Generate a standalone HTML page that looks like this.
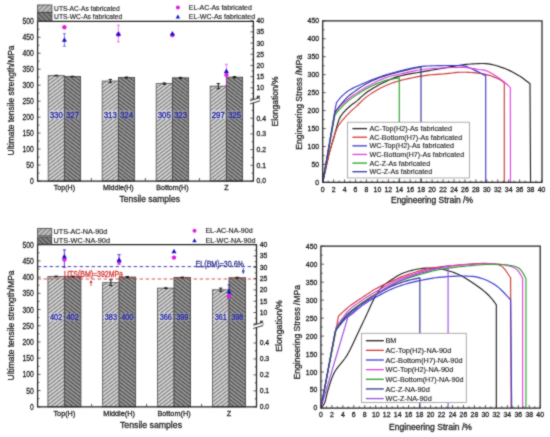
<!DOCTYPE html>
<html><head><meta charset="utf-8"><style>
html,body{margin:0;padding:0;background:#fff;}
svg{display:block;}
#w{width:550px;height:437px;overflow:hidden;}
text{font-family:"Liberation Sans",sans-serif;}
</style></head><body>
<div id="w"><svg width="550" height="437" viewBox="0 0 550 437">
<defs>
<filter id="soft" filterUnits="userSpaceOnUse" x="0" y="0" width="550" height="437" color-interpolation-filters="sRGB"><feConvolveMatrix order="3" kernelMatrix="1 2 1 2 12 2 1 2 1" divisor="24" edgeMode="duplicate"/></filter>
<pattern id="hAC" patternUnits="userSpaceOnUse" width="3.0" height="10" patternTransform="rotate(52)"><rect width="3.0" height="10" fill="#dadada"/><rect width="1.2" height="10" fill="#7a7a7a"/></pattern>
<pattern id="hWC" patternUnits="userSpaceOnUse" width="3.0" height="10" patternTransform="rotate(-52)"><rect width="3.0" height="10" fill="#9c9c9c"/><rect width="1.2" height="10" fill="#4a4a4a"/></pattern>
<pattern id="hACl" patternUnits="userSpaceOnUse" width="3.4" height="10" patternTransform="rotate(45)"><rect width="3.4" height="10" fill="#c2c2c2"/><rect width="1.4" height="10" fill="#8a8a8a"/></pattern>
<pattern id="hWCl" patternUnits="userSpaceOnUse" width="3.4" height="10" patternTransform="rotate(-45)"><rect width="3.4" height="10" fill="#858585"/><rect width="1.4" height="10" fill="#545454"/></pattern>
<clipPath id="cTR"><rect x="322.7" y="20.8" width="219.4" height="161.6"/></clipPath>
<clipPath id="cBR"><rect x="320.9" y="246.2" width="219.3" height="161.8"/></clipPath>
</defs>
<g filter="url(#soft)">
<rect width="550" height="437" fill="#fff"/>
<rect x="48.20" y="75.60" width="16.20" height="105.40" fill="url(#hAC)" stroke="#606060" stroke-width="0.9"/>
<rect x="64.40" y="76.56" width="16.20" height="104.44" fill="url(#hWC)" stroke="#4a4a4a" stroke-width="0.9"/>
<rect x="102.20" y="81.03" width="16.20" height="99.97" fill="url(#hAC)" stroke="#606060" stroke-width="0.9"/>
<rect x="118.40" y="77.51" width="16.20" height="103.49" fill="url(#hWC)" stroke="#4a4a4a" stroke-width="0.9"/>
<rect x="156.20" y="83.58" width="16.20" height="97.42" fill="url(#hAC)" stroke="#606060" stroke-width="0.9"/>
<rect x="172.40" y="77.83" width="16.20" height="103.17" fill="url(#hWC)" stroke="#4a4a4a" stroke-width="0.9"/>
<rect x="210.20" y="86.14" width="16.20" height="94.86" fill="url(#hAC)" stroke="#606060" stroke-width="0.9"/>
<rect x="226.40" y="77.20" width="16.20" height="103.80" fill="url(#hWC)" stroke="#4a4a4a" stroke-width="0.9"/>
<line x1="56.30" y1="75.28" x2="56.30" y2="75.92" stroke="#111" stroke-width="0.95" />
<line x1="54.60" y1="75.28" x2="58.00" y2="75.28" stroke="#111" stroke-width="0.95" />
<line x1="54.60" y1="75.92" x2="58.00" y2="75.92" stroke="#111" stroke-width="0.95" />
<line x1="72.50" y1="76.24" x2="72.50" y2="76.88" stroke="#111" stroke-width="0.95" />
<line x1="70.80" y1="76.24" x2="74.20" y2="76.24" stroke="#111" stroke-width="0.95" />
<line x1="70.80" y1="76.88" x2="74.20" y2="76.88" stroke="#111" stroke-width="0.95" />
<line x1="110.30" y1="79.43" x2="110.30" y2="82.62" stroke="#111" stroke-width="0.95" />
<line x1="108.60" y1="79.43" x2="112.00" y2="79.43" stroke="#111" stroke-width="0.95" />
<line x1="108.60" y1="82.62" x2="112.00" y2="82.62" stroke="#111" stroke-width="0.95" />
<line x1="126.50" y1="77.04" x2="126.50" y2="77.99" stroke="#111" stroke-width="0.95" />
<line x1="124.80" y1="77.04" x2="128.20" y2="77.04" stroke="#111" stroke-width="0.95" />
<line x1="124.80" y1="77.99" x2="128.20" y2="77.99" stroke="#111" stroke-width="0.95" />
<line x1="164.30" y1="82.94" x2="164.30" y2="84.22" stroke="#111" stroke-width="0.95" />
<line x1="162.60" y1="82.94" x2="166.00" y2="82.94" stroke="#111" stroke-width="0.95" />
<line x1="162.60" y1="84.22" x2="166.00" y2="84.22" stroke="#111" stroke-width="0.95" />
<line x1="180.50" y1="77.35" x2="180.50" y2="78.31" stroke="#111" stroke-width="0.95" />
<line x1="178.80" y1="77.35" x2="182.20" y2="77.35" stroke="#111" stroke-width="0.95" />
<line x1="178.80" y1="78.31" x2="182.20" y2="78.31" stroke="#111" stroke-width="0.95" />
<line x1="218.30" y1="83.58" x2="218.30" y2="88.69" stroke="#111" stroke-width="0.95" />
<line x1="216.60" y1="83.58" x2="220.00" y2="83.58" stroke="#111" stroke-width="0.95" />
<line x1="216.60" y1="88.69" x2="220.00" y2="88.69" stroke="#111" stroke-width="0.95" />
<line x1="234.50" y1="76.56" x2="234.50" y2="77.83" stroke="#111" stroke-width="0.95" />
<line x1="232.80" y1="76.56" x2="236.20" y2="76.56" stroke="#111" stroke-width="0.95" />
<line x1="232.80" y1="77.83" x2="236.20" y2="77.83" stroke="#111" stroke-width="0.95" />
<rect x="49.10" y="110.42" width="14.40" height="8.46" fill="#d6d6da"/>
<text x="56.30" y="117.79" font-size="8.9" text-anchor="middle" fill="#2626a4" stroke="#2626a4" stroke-width="0.35" textLength="13.20" lengthAdjust="spacingAndGlyphs" >330</text>
<rect x="65.30" y="110.42" width="14.40" height="8.46" fill="#969698"/>
<text x="72.50" y="117.79" font-size="8.9" text-anchor="middle" fill="#2626a4" stroke="#2626a4" stroke-width="0.35" textLength="13.20" lengthAdjust="spacingAndGlyphs" >327</text>
<rect x="103.10" y="110.42" width="14.40" height="8.46" fill="#d6d6da"/>
<text x="110.30" y="117.79" font-size="8.9" text-anchor="middle" fill="#2626a4" stroke="#2626a4" stroke-width="0.35" textLength="13.20" lengthAdjust="spacingAndGlyphs" >313</text>
<rect x="119.30" y="110.42" width="14.40" height="8.46" fill="#969698"/>
<text x="126.50" y="117.79" font-size="8.9" text-anchor="middle" fill="#2626a4" stroke="#2626a4" stroke-width="0.35" textLength="13.20" lengthAdjust="spacingAndGlyphs" >324</text>
<rect x="157.10" y="110.42" width="14.40" height="8.46" fill="#d6d6da"/>
<text x="164.30" y="117.79" font-size="8.9" text-anchor="middle" fill="#2626a4" stroke="#2626a4" stroke-width="0.35" textLength="13.20" lengthAdjust="spacingAndGlyphs" >305</text>
<rect x="173.30" y="110.42" width="14.40" height="8.46" fill="#969698"/>
<text x="180.50" y="117.79" font-size="8.9" text-anchor="middle" fill="#2626a4" stroke="#2626a4" stroke-width="0.35" textLength="13.20" lengthAdjust="spacingAndGlyphs" >323</text>
<rect x="211.10" y="110.42" width="14.40" height="8.46" fill="#d6d6da"/>
<text x="218.30" y="117.79" font-size="8.9" text-anchor="middle" fill="#2626a4" stroke="#2626a4" stroke-width="0.35" textLength="13.20" lengthAdjust="spacingAndGlyphs" >297</text>
<rect x="227.30" y="110.42" width="14.40" height="8.46" fill="#969698"/>
<text x="234.50" y="117.79" font-size="8.9" text-anchor="middle" fill="#2626a4" stroke="#2626a4" stroke-width="0.35" textLength="13.20" lengthAdjust="spacingAndGlyphs" >325</text>
<line x1="64.40" y1="33.67" x2="64.40" y2="46.20" stroke="#1414c8" stroke-width="0.55" />
<line x1="62.80" y1="33.67" x2="66.00" y2="33.67" stroke="#1414c8" stroke-width="0.55" />
<line x1="62.80" y1="46.20" x2="66.00" y2="46.20" stroke="#1414c8" stroke-width="0.55" />
<line x1="118.40" y1="25.17" x2="118.40" y2="41.95" stroke="#e020e0" stroke-width="0.55" />
<line x1="116.80" y1="25.17" x2="120.00" y2="25.17" stroke="#e020e0" stroke-width="0.55" />
<line x1="116.80" y1="41.95" x2="120.00" y2="41.95" stroke="#e020e0" stroke-width="0.55" />
<line x1="226.40" y1="64.32" x2="226.40" y2="85.57" stroke="#e020e0" stroke-width="0.55" />
<line x1="224.80" y1="64.32" x2="228.00" y2="64.32" stroke="#e020e0" stroke-width="0.55" />
<line x1="224.80" y1="85.57" x2="228.00" y2="85.57" stroke="#e020e0" stroke-width="0.55" />
<circle cx="64.40" cy="27.19" r="2.2" fill="#e020e0"/>
<path d="M61.90,41.74 L66.90,41.74 L64.40,37.24 Z" fill="#1414c8"/>
<circle cx="118.40" cy="34.57" r="2.2" fill="#e020e0"/>
<path d="M115.90,35.70 L120.90,35.70 L118.40,31.20 Z" fill="#1414c8"/>
<circle cx="172.40" cy="35.02" r="2.2" fill="#e020e0"/>
<path d="M169.90,35.48 L174.90,35.48 L172.40,30.98 Z" fill="#1414c8"/>
<circle cx="226.40" cy="74.84" r="2.2" fill="#e020e0"/>
<path d="M223.90,73.06 L228.90,73.06 L226.40,68.56 Z" fill="#1414c8"/>
<path d="M37.6,21.3 L253.4,21.3 L253.4,181.0 L37.6,181.0 Z" fill="none" stroke="#222" stroke-width="1.25"/>
<line x1="37.60" y1="181.00" x2="40.60" y2="181.00" stroke="#333" stroke-width="0.8" />
<text x="33.80" y="184.08" font-size="8.6" text-anchor="end" fill="#222" stroke="#222" stroke-width="0.28" textLength="3.78" lengthAdjust="spacingAndGlyphs" >0</text>
<line x1="37.60" y1="173.01" x2="39.40" y2="173.01" stroke="#333" stroke-width="0.8" />
<line x1="37.60" y1="165.03" x2="40.60" y2="165.03" stroke="#333" stroke-width="0.8" />
<text x="33.80" y="168.11" font-size="8.6" text-anchor="end" fill="#222" stroke="#222" stroke-width="0.28" textLength="7.56" lengthAdjust="spacingAndGlyphs" >50</text>
<line x1="37.60" y1="157.05" x2="39.40" y2="157.05" stroke="#333" stroke-width="0.8" />
<line x1="37.60" y1="149.06" x2="40.60" y2="149.06" stroke="#333" stroke-width="0.8" />
<text x="33.80" y="152.14" font-size="8.6" text-anchor="end" fill="#222" stroke="#222" stroke-width="0.28" textLength="11.33" lengthAdjust="spacingAndGlyphs" >100</text>
<line x1="37.60" y1="141.07" x2="39.40" y2="141.07" stroke="#333" stroke-width="0.8" />
<line x1="37.60" y1="133.09" x2="40.60" y2="133.09" stroke="#333" stroke-width="0.8" />
<text x="33.80" y="136.17" font-size="8.6" text-anchor="end" fill="#222" stroke="#222" stroke-width="0.28" textLength="11.33" lengthAdjust="spacingAndGlyphs" >150</text>
<line x1="37.60" y1="125.11" x2="39.40" y2="125.11" stroke="#333" stroke-width="0.8" />
<line x1="37.60" y1="117.12" x2="40.60" y2="117.12" stroke="#333" stroke-width="0.8" />
<text x="33.80" y="120.20" font-size="8.6" text-anchor="end" fill="#222" stroke="#222" stroke-width="0.28" textLength="11.33" lengthAdjust="spacingAndGlyphs" >200</text>
<line x1="37.60" y1="109.14" x2="39.40" y2="109.14" stroke="#333" stroke-width="0.8" />
<line x1="37.60" y1="101.15" x2="40.60" y2="101.15" stroke="#333" stroke-width="0.8" />
<text x="33.80" y="104.23" font-size="8.6" text-anchor="end" fill="#222" stroke="#222" stroke-width="0.28" textLength="11.33" lengthAdjust="spacingAndGlyphs" >250</text>
<line x1="37.60" y1="93.17" x2="39.40" y2="93.17" stroke="#333" stroke-width="0.8" />
<line x1="37.60" y1="85.18" x2="40.60" y2="85.18" stroke="#333" stroke-width="0.8" />
<text x="33.80" y="88.26" font-size="8.6" text-anchor="end" fill="#222" stroke="#222" stroke-width="0.28" textLength="11.33" lengthAdjust="spacingAndGlyphs" >300</text>
<line x1="37.60" y1="77.20" x2="39.40" y2="77.20" stroke="#333" stroke-width="0.8" />
<line x1="37.60" y1="69.21" x2="40.60" y2="69.21" stroke="#333" stroke-width="0.8" />
<text x="33.80" y="72.29" font-size="8.6" text-anchor="end" fill="#222" stroke="#222" stroke-width="0.28" textLength="11.33" lengthAdjust="spacingAndGlyphs" >350</text>
<line x1="37.60" y1="61.23" x2="39.40" y2="61.23" stroke="#333" stroke-width="0.8" />
<line x1="37.60" y1="53.24" x2="40.60" y2="53.24" stroke="#333" stroke-width="0.8" />
<text x="33.80" y="56.32" font-size="8.6" text-anchor="end" fill="#222" stroke="#222" stroke-width="0.28" textLength="11.33" lengthAdjust="spacingAndGlyphs" >400</text>
<line x1="37.60" y1="45.26" x2="39.40" y2="45.26" stroke="#333" stroke-width="0.8" />
<line x1="37.60" y1="37.27" x2="40.60" y2="37.27" stroke="#333" stroke-width="0.8" />
<text x="33.80" y="40.35" font-size="8.6" text-anchor="end" fill="#222" stroke="#222" stroke-width="0.28" textLength="11.33" lengthAdjust="spacingAndGlyphs" >450</text>
<line x1="37.60" y1="29.29" x2="39.40" y2="29.29" stroke="#333" stroke-width="0.8" />
<line x1="37.60" y1="21.30" x2="40.60" y2="21.30" stroke="#333" stroke-width="0.8" />
<text x="33.80" y="24.38" font-size="8.6" text-anchor="end" fill="#222" stroke="#222" stroke-width="0.28" textLength="11.33" lengthAdjust="spacingAndGlyphs" >500</text>
<line x1="91.40" y1="181.00" x2="91.40" y2="178.00" stroke="#333" stroke-width="0.8" />
<line x1="145.40" y1="181.00" x2="145.40" y2="178.00" stroke="#333" stroke-width="0.8" />
<line x1="199.40" y1="181.00" x2="199.40" y2="178.00" stroke="#333" stroke-width="0.8" />
<text x="64.40" y="190.06" font-size="8" text-anchor="middle" fill="#222" stroke="#222" stroke-width="0.28" textLength="21.24" lengthAdjust="spacingAndGlyphs" >Top(H)</text>
<text x="118.40" y="190.06" font-size="8" text-anchor="middle" fill="#222" stroke="#222" stroke-width="0.28" textLength="30.68" lengthAdjust="spacingAndGlyphs" >Middle(H)</text>
<text x="172.40" y="190.06" font-size="8" text-anchor="middle" fill="#222" stroke="#222" stroke-width="0.28" textLength="32.26" lengthAdjust="spacingAndGlyphs" >Bottom(H)</text>
<text x="226.40" y="190.06" font-size="8" text-anchor="middle" fill="#222" stroke="#222" stroke-width="0.28" textLength="4.32" lengthAdjust="spacingAndGlyphs" >Z</text>
<line x1="253.40" y1="99.00" x2="250.40" y2="99.00" stroke="#333" stroke-width="0.8" />
<text x="256.60" y="101.43" font-size="6.8" text-anchor="start" fill="#222" stroke="#222" stroke-width="0.28" >5</text>
<line x1="253.40" y1="87.81" x2="250.40" y2="87.81" stroke="#333" stroke-width="0.8" />
<text x="256.60" y="90.24" font-size="6.8" text-anchor="start" fill="#222" stroke="#222" stroke-width="0.28" >10</text>
<line x1="253.40" y1="76.62" x2="250.40" y2="76.62" stroke="#333" stroke-width="0.8" />
<text x="256.60" y="79.06" font-size="6.8" text-anchor="start" fill="#222" stroke="#222" stroke-width="0.28" >15</text>
<line x1="253.40" y1="65.44" x2="250.40" y2="65.44" stroke="#333" stroke-width="0.8" />
<text x="256.60" y="67.87" font-size="6.8" text-anchor="start" fill="#222" stroke="#222" stroke-width="0.28" >20</text>
<line x1="253.40" y1="54.25" x2="250.40" y2="54.25" stroke="#333" stroke-width="0.8" />
<text x="256.60" y="56.69" font-size="6.8" text-anchor="start" fill="#222" stroke="#222" stroke-width="0.28" >25</text>
<line x1="253.40" y1="43.07" x2="250.40" y2="43.07" stroke="#333" stroke-width="0.8" />
<text x="256.60" y="45.50" font-size="6.8" text-anchor="start" fill="#222" stroke="#222" stroke-width="0.28" >30</text>
<line x1="253.40" y1="31.88" x2="250.40" y2="31.88" stroke="#333" stroke-width="0.8" />
<text x="256.60" y="34.32" font-size="6.8" text-anchor="start" fill="#222" stroke="#222" stroke-width="0.28" >35</text>
<line x1="253.40" y1="20.70" x2="250.40" y2="20.70" stroke="#333" stroke-width="0.8" />
<text x="256.60" y="23.13" font-size="6.8" text-anchor="start" fill="#222" stroke="#222" stroke-width="0.28" >40</text>
<line x1="253.40" y1="93.40" x2="251.60" y2="93.40" stroke="#333" stroke-width="0.8" />
<line x1="253.40" y1="82.22" x2="251.60" y2="82.22" stroke="#333" stroke-width="0.8" />
<line x1="253.40" y1="71.03" x2="251.60" y2="71.03" stroke="#333" stroke-width="0.8" />
<line x1="253.40" y1="59.85" x2="251.60" y2="59.85" stroke="#333" stroke-width="0.8" />
<line x1="253.40" y1="48.66" x2="251.60" y2="48.66" stroke="#333" stroke-width="0.8" />
<line x1="253.40" y1="37.48" x2="251.60" y2="37.48" stroke="#333" stroke-width="0.8" />
<line x1="253.40" y1="26.29" x2="251.60" y2="26.29" stroke="#333" stroke-width="0.8" />
<line x1="253.40" y1="181.00" x2="250.40" y2="181.00" stroke="#333" stroke-width="0.8" />
<text x="256.60" y="183.43" font-size="6.8" text-anchor="start" fill="#222" stroke="#222" stroke-width="0.28" >0.0</text>
<line x1="253.40" y1="165.30" x2="250.40" y2="165.30" stroke="#333" stroke-width="0.8" />
<text x="256.60" y="167.73" font-size="6.8" text-anchor="start" fill="#222" stroke="#222" stroke-width="0.28" >0.1</text>
<line x1="253.40" y1="149.60" x2="250.40" y2="149.60" stroke="#333" stroke-width="0.8" />
<text x="256.60" y="152.03" font-size="6.8" text-anchor="start" fill="#222" stroke="#222" stroke-width="0.28" >0.2</text>
<line x1="253.40" y1="133.90" x2="250.40" y2="133.90" stroke="#333" stroke-width="0.8" />
<text x="256.60" y="136.33" font-size="6.8" text-anchor="start" fill="#222" stroke="#222" stroke-width="0.28" >0.3</text>
<line x1="253.40" y1="118.20" x2="250.40" y2="118.20" stroke="#333" stroke-width="0.8" />
<text x="256.60" y="120.63" font-size="6.8" text-anchor="start" fill="#222" stroke="#222" stroke-width="0.28" >0.4</text>
<line x1="253.40" y1="173.15" x2="251.60" y2="173.15" stroke="#333" stroke-width="0.8" />
<line x1="253.40" y1="157.45" x2="251.60" y2="157.45" stroke="#333" stroke-width="0.8" />
<line x1="253.40" y1="141.75" x2="251.60" y2="141.75" stroke="#333" stroke-width="0.8" />
<line x1="253.40" y1="126.05" x2="251.60" y2="126.05" stroke="#333" stroke-width="0.8" />
<line x1="253.40" y1="110.35" x2="251.60" y2="110.35" stroke="#333" stroke-width="0.8" />
<path d="M250.10,100.60 L259.40,97.80 L259.90,100.90 L250.10,103.90 Z" fill="#fff"/>
<line x1="250.10" y1="100.60" x2="259.40" y2="97.80" stroke="#222" stroke-width="0.9" />
<line x1="250.10" y1="103.90" x2="259.90" y2="100.90" stroke="#222" stroke-width="0.9" />
<text x="0" y="0" font-size="8.4" text-anchor="middle" fill="#222" stroke="#222" stroke-width="0.28" textLength="109.90" lengthAdjust="spacingAndGlyphs" transform="translate(14.20,100.45) rotate(-90)">Ultimate tensile strength/MPa</text>
<text x="0" y="0" font-size="8.6" text-anchor="middle" fill="#222" stroke="#222" stroke-width="0.28" textLength="49.90" lengthAdjust="spacingAndGlyphs" transform="translate(278.00,101.45) rotate(-90)">Elongation/%</text>
<text x="149.70" y="202.19" font-size="9.2" text-anchor="middle" fill="#222" stroke="#222" stroke-width="0.28" textLength="60.40" lengthAdjust="spacingAndGlyphs" >Tensile samples</text>
<rect x="37.6" y="5" width="14.299999999999997" height="7.4" fill="url(#hACl)" stroke="#505050" stroke-width="0.9"/>
<rect x="37.6" y="12.4" width="14.299999999999997" height="8.6" fill="url(#hWCl)" stroke="#404040" stroke-width="0.9"/>
<text x="54.10" y="10.91" font-size="7.0" text-anchor="start" fill="#222" stroke="#222" stroke-width="0.15" textLength="65.60" lengthAdjust="spacingAndGlyphs" >UTS-AC-As fabricated</text>
<text x="54.10" y="19.11" font-size="7.0" text-anchor="start" fill="#222" stroke="#222" stroke-width="0.15" textLength="68.20" lengthAdjust="spacingAndGlyphs" >UTS-WC-As fabricated</text>
<circle cx="177.90" cy="7.40" r="2.0" fill="#e020e0"/>
<path d="M175.70,18.58 L180.10,18.58 L177.90,14.62 Z" fill="#1414c8"/>
<text x="188.80" y="9.91" font-size="7.0" text-anchor="start" fill="#222" stroke="#222" stroke-width="0.15" textLength="63.00" lengthAdjust="spacingAndGlyphs" >EL-AC-As fabricated</text>
<text x="188.80" y="19.11" font-size="7.0" text-anchor="start" fill="#222" stroke="#222" stroke-width="0.15" textLength="66.30" lengthAdjust="spacingAndGlyphs" >EL-WC-As fabricated</text>
<rect x="47.90" y="276.47" width="16.50" height="130.33" fill="url(#hAC)" stroke="#606060" stroke-width="0.9"/>
<rect x="64.40" y="276.47" width="16.50" height="130.33" fill="url(#hWC)" stroke="#4a4a4a" stroke-width="0.9"/>
<rect x="102.60" y="282.63" width="16.50" height="124.17" fill="url(#hAC)" stroke="#606060" stroke-width="0.9"/>
<rect x="119.10" y="277.12" width="16.50" height="129.68" fill="url(#hWC)" stroke="#4a4a4a" stroke-width="0.9"/>
<rect x="157.50" y="288.14" width="16.50" height="118.66" fill="url(#hAC)" stroke="#606060" stroke-width="0.9"/>
<rect x="174.00" y="277.44" width="16.50" height="129.36" fill="url(#hWC)" stroke="#4a4a4a" stroke-width="0.9"/>
<rect x="212.50" y="289.76" width="16.50" height="117.04" fill="url(#hAC)" stroke="#606060" stroke-width="0.9"/>
<rect x="229.00" y="277.77" width="16.50" height="129.03" fill="url(#hWC)" stroke="#4a4a4a" stroke-width="0.9"/>
<line x1="56.15" y1="276.15" x2="56.15" y2="276.80" stroke="#111" stroke-width="0.95" />
<line x1="54.45" y1="276.15" x2="57.85" y2="276.15" stroke="#111" stroke-width="0.95" />
<line x1="54.45" y1="276.80" x2="57.85" y2="276.80" stroke="#111" stroke-width="0.95" />
<line x1="72.65" y1="276.15" x2="72.65" y2="276.80" stroke="#111" stroke-width="0.95" />
<line x1="70.95" y1="276.15" x2="74.35" y2="276.15" stroke="#111" stroke-width="0.95" />
<line x1="70.95" y1="276.80" x2="74.35" y2="276.80" stroke="#111" stroke-width="0.95" />
<line x1="110.85" y1="279.71" x2="110.85" y2="285.55" stroke="#111" stroke-width="0.95" />
<line x1="109.15" y1="279.71" x2="112.55" y2="279.71" stroke="#111" stroke-width="0.95" />
<line x1="109.15" y1="285.55" x2="112.55" y2="285.55" stroke="#111" stroke-width="0.95" />
<line x1="127.35" y1="276.47" x2="127.35" y2="277.77" stroke="#111" stroke-width="0.95" />
<line x1="125.65" y1="276.47" x2="129.05" y2="276.47" stroke="#111" stroke-width="0.95" />
<line x1="125.65" y1="277.77" x2="129.05" y2="277.77" stroke="#111" stroke-width="0.95" />
<line x1="165.75" y1="287.82" x2="165.75" y2="288.47" stroke="#111" stroke-width="0.95" />
<line x1="164.05" y1="287.82" x2="167.45" y2="287.82" stroke="#111" stroke-width="0.95" />
<line x1="164.05" y1="288.47" x2="167.45" y2="288.47" stroke="#111" stroke-width="0.95" />
<line x1="182.25" y1="277.12" x2="182.25" y2="277.77" stroke="#111" stroke-width="0.95" />
<line x1="180.55" y1="277.12" x2="183.95" y2="277.12" stroke="#111" stroke-width="0.95" />
<line x1="180.55" y1="277.77" x2="183.95" y2="277.77" stroke="#111" stroke-width="0.95" />
<line x1="220.75" y1="288.14" x2="220.75" y2="291.38" stroke="#111" stroke-width="0.95" />
<line x1="219.05" y1="288.14" x2="222.45" y2="288.14" stroke="#111" stroke-width="0.95" />
<line x1="219.05" y1="291.38" x2="222.45" y2="291.38" stroke="#111" stroke-width="0.95" />
<line x1="237.25" y1="277.28" x2="237.25" y2="278.25" stroke="#111" stroke-width="0.95" />
<line x1="235.55" y1="277.28" x2="238.95" y2="277.28" stroke="#111" stroke-width="0.95" />
<line x1="235.55" y1="278.25" x2="238.95" y2="278.25" stroke="#111" stroke-width="0.95" />
<rect x="49.45" y="313.25" width="13.40" height="7.79" fill="#d6d6da"/>
<text x="56.15" y="320.04" font-size="8.2" text-anchor="middle" fill="#2626a4" stroke="#2626a4" stroke-width="0.35" textLength="12.20" lengthAdjust="spacingAndGlyphs" >402</text>
<rect x="65.95" y="313.25" width="13.40" height="7.79" fill="#969698"/>
<text x="72.65" y="320.04" font-size="8.2" text-anchor="middle" fill="#2626a4" stroke="#2626a4" stroke-width="0.35" textLength="12.20" lengthAdjust="spacingAndGlyphs" >402</text>
<rect x="104.15" y="313.25" width="13.40" height="7.79" fill="#d6d6da"/>
<text x="110.85" y="320.04" font-size="8.2" text-anchor="middle" fill="#2626a4" stroke="#2626a4" stroke-width="0.35" textLength="12.20" lengthAdjust="spacingAndGlyphs" >383</text>
<rect x="120.65" y="313.25" width="13.40" height="7.79" fill="#969698"/>
<text x="127.35" y="320.04" font-size="8.2" text-anchor="middle" fill="#2626a4" stroke="#2626a4" stroke-width="0.35" textLength="12.20" lengthAdjust="spacingAndGlyphs" >400</text>
<rect x="159.05" y="313.25" width="13.40" height="7.79" fill="#d6d6da"/>
<text x="165.75" y="320.04" font-size="8.2" text-anchor="middle" fill="#2626a4" stroke="#2626a4" stroke-width="0.35" textLength="12.20" lengthAdjust="spacingAndGlyphs" >366</text>
<rect x="175.55" y="313.25" width="13.40" height="7.79" fill="#969698"/>
<text x="182.25" y="320.04" font-size="8.2" text-anchor="middle" fill="#2626a4" stroke="#2626a4" stroke-width="0.35" textLength="12.20" lengthAdjust="spacingAndGlyphs" >399</text>
<rect x="214.05" y="313.25" width="13.40" height="7.79" fill="#d6d6da"/>
<text x="220.75" y="320.04" font-size="8.2" text-anchor="middle" fill="#2626a4" stroke="#2626a4" stroke-width="0.35" textLength="12.20" lengthAdjust="spacingAndGlyphs" >361</text>
<rect x="230.55" y="313.25" width="13.40" height="7.79" fill="#969698"/>
<text x="237.25" y="320.04" font-size="8.2" text-anchor="middle" fill="#2626a4" stroke="#2626a4" stroke-width="0.35" textLength="12.20" lengthAdjust="spacingAndGlyphs" >398</text>
<line x1="37.60" y1="266.60" x2="256.50" y2="266.60" stroke="#2a2ab0" stroke-width="0.9" stroke-dasharray="3.5,2.5"/>
<line x1="37.60" y1="279.00" x2="256.50" y2="279.00" stroke="#d04040" stroke-width="0.9" stroke-dasharray="3.5,2.5"/>
<text x="64.00" y="277.34" font-size="8.2" text-anchor="start" fill="#d03030" stroke="#d03030" stroke-width="0.28" textLength="59.00" lengthAdjust="spacingAndGlyphs" >UTS(BM)=392MPa</text>
<text x="195.60" y="266.94" font-size="8.2" text-anchor="start" fill="#2e2e8c" stroke="#2e2e8c" stroke-width="0.28" textLength="48.30" lengthAdjust="spacingAndGlyphs" >EL(BM)=30.6%</text>
<line x1="91.00" y1="286.00" x2="91.00" y2="281.00" stroke="#d03030" stroke-width="0.8" />
<path d="M89.5,283 L91,280 L92.5,283 Z" fill="#d03030"/>
<line x1="243.30" y1="268.00" x2="243.30" y2="273.70" stroke="#2a2ab0" stroke-width="0.8" />
<path d="M241.8,270.5 L243.3,273.7 L244.8,270.5 Z" fill="#2a2ab0"/>
<line x1="64.40" y1="249.90" x2="64.40" y2="267.30" stroke="#e020e0" stroke-width="0.55" />
<line x1="62.80" y1="249.90" x2="66.00" y2="249.90" stroke="#e020e0" stroke-width="0.55" />
<line x1="62.80" y1="267.30" x2="66.00" y2="267.30" stroke="#e020e0" stroke-width="0.55" />
<line x1="64.40" y1="249.90" x2="64.40" y2="267.30" stroke="#1414c8" stroke-width="0.55" />
<line x1="62.80" y1="249.90" x2="66.00" y2="249.90" stroke="#1414c8" stroke-width="0.55" />
<line x1="62.80" y1="267.30" x2="66.00" y2="267.30" stroke="#1414c8" stroke-width="0.55" />
<line x1="119.10" y1="254.64" x2="119.10" y2="264.14" stroke="#e020e0" stroke-width="0.55" />
<line x1="117.50" y1="254.64" x2="120.70" y2="254.64" stroke="#e020e0" stroke-width="0.55" />
<line x1="117.50" y1="264.14" x2="120.70" y2="264.14" stroke="#e020e0" stroke-width="0.55" />
<line x1="119.10" y1="254.64" x2="119.10" y2="264.14" stroke="#1414c8" stroke-width="0.55" />
<line x1="117.50" y1="254.64" x2="120.70" y2="254.64" stroke="#1414c8" stroke-width="0.55" />
<line x1="117.50" y1="264.14" x2="120.70" y2="264.14" stroke="#1414c8" stroke-width="0.55" />
<line x1="229.00" y1="284.70" x2="229.00" y2="297.81" stroke="#1414c8" stroke-width="0.55" />
<line x1="227.40" y1="284.70" x2="230.60" y2="284.70" stroke="#1414c8" stroke-width="0.55" />
<line x1="227.40" y1="297.81" x2="230.60" y2="297.81" stroke="#1414c8" stroke-width="0.55" />
<circle cx="64.40" cy="259.50" r="2.2" fill="#e020e0"/>
<path d="M61.90,258.25 L66.90,258.25 L64.40,253.75 Z" fill="#1414c8"/>
<circle cx="119.10" cy="261.42" r="2.2" fill="#e020e0"/>
<path d="M116.60,261.75 L121.60,261.75 L119.10,257.25 Z" fill="#1414c8"/>
<circle cx="174.00" cy="257.58" r="2.2" fill="#e020e0"/>
<path d="M171.50,253.28 L176.50,253.28 L174.00,248.78 Z" fill="#1414c8"/>
<circle cx="229.00" cy="296.45" r="2.2" fill="#e020e0"/>
<path d="M226.50,293.51 L231.50,293.51 L229.00,289.01 Z" fill="#1414c8"/>
<path d="M37.6,244.7 L256.5,244.7 L256.5,406.8 L37.6,406.8 Z" fill="none" stroke="#222" stroke-width="1.25"/>
<line x1="37.60" y1="406.80" x2="40.60" y2="406.80" stroke="#333" stroke-width="0.8" />
<text x="33.80" y="409.88" font-size="8.6" text-anchor="end" fill="#222" stroke="#222" stroke-width="0.28" textLength="3.78" lengthAdjust="spacingAndGlyphs" >0</text>
<line x1="37.60" y1="398.69" x2="39.40" y2="398.69" stroke="#333" stroke-width="0.8" />
<line x1="37.60" y1="390.59" x2="40.60" y2="390.59" stroke="#333" stroke-width="0.8" />
<text x="33.80" y="393.67" font-size="8.6" text-anchor="end" fill="#222" stroke="#222" stroke-width="0.28" textLength="7.56" lengthAdjust="spacingAndGlyphs" >50</text>
<line x1="37.60" y1="382.49" x2="39.40" y2="382.49" stroke="#333" stroke-width="0.8" />
<line x1="37.60" y1="374.38" x2="40.60" y2="374.38" stroke="#333" stroke-width="0.8" />
<text x="33.80" y="377.46" font-size="8.6" text-anchor="end" fill="#222" stroke="#222" stroke-width="0.28" textLength="11.33" lengthAdjust="spacingAndGlyphs" >100</text>
<line x1="37.60" y1="366.27" x2="39.40" y2="366.27" stroke="#333" stroke-width="0.8" />
<line x1="37.60" y1="358.17" x2="40.60" y2="358.17" stroke="#333" stroke-width="0.8" />
<text x="33.80" y="361.25" font-size="8.6" text-anchor="end" fill="#222" stroke="#222" stroke-width="0.28" textLength="11.33" lengthAdjust="spacingAndGlyphs" >150</text>
<line x1="37.60" y1="350.06" x2="39.40" y2="350.06" stroke="#333" stroke-width="0.8" />
<line x1="37.60" y1="341.96" x2="40.60" y2="341.96" stroke="#333" stroke-width="0.8" />
<text x="33.80" y="345.04" font-size="8.6" text-anchor="end" fill="#222" stroke="#222" stroke-width="0.28" textLength="11.33" lengthAdjust="spacingAndGlyphs" >200</text>
<line x1="37.60" y1="333.86" x2="39.40" y2="333.86" stroke="#333" stroke-width="0.8" />
<line x1="37.60" y1="325.75" x2="40.60" y2="325.75" stroke="#333" stroke-width="0.8" />
<text x="33.80" y="328.83" font-size="8.6" text-anchor="end" fill="#222" stroke="#222" stroke-width="0.28" textLength="11.33" lengthAdjust="spacingAndGlyphs" >250</text>
<line x1="37.60" y1="317.64" x2="39.40" y2="317.64" stroke="#333" stroke-width="0.8" />
<line x1="37.60" y1="309.54" x2="40.60" y2="309.54" stroke="#333" stroke-width="0.8" />
<text x="33.80" y="312.62" font-size="8.6" text-anchor="end" fill="#222" stroke="#222" stroke-width="0.28" textLength="11.33" lengthAdjust="spacingAndGlyphs" >300</text>
<line x1="37.60" y1="301.44" x2="39.40" y2="301.44" stroke="#333" stroke-width="0.8" />
<line x1="37.60" y1="293.33" x2="40.60" y2="293.33" stroke="#333" stroke-width="0.8" />
<text x="33.80" y="296.41" font-size="8.6" text-anchor="end" fill="#222" stroke="#222" stroke-width="0.28" textLength="11.33" lengthAdjust="spacingAndGlyphs" >350</text>
<line x1="37.60" y1="285.23" x2="39.40" y2="285.23" stroke="#333" stroke-width="0.8" />
<line x1="37.60" y1="277.12" x2="40.60" y2="277.12" stroke="#333" stroke-width="0.8" />
<text x="33.80" y="280.20" font-size="8.6" text-anchor="end" fill="#222" stroke="#222" stroke-width="0.28" textLength="11.33" lengthAdjust="spacingAndGlyphs" >400</text>
<line x1="37.60" y1="269.01" x2="39.40" y2="269.01" stroke="#333" stroke-width="0.8" />
<line x1="37.60" y1="260.91" x2="40.60" y2="260.91" stroke="#333" stroke-width="0.8" />
<text x="33.80" y="263.99" font-size="8.6" text-anchor="end" fill="#222" stroke="#222" stroke-width="0.28" textLength="11.33" lengthAdjust="spacingAndGlyphs" >450</text>
<line x1="37.60" y1="252.80" x2="39.40" y2="252.80" stroke="#333" stroke-width="0.8" />
<line x1="37.60" y1="244.70" x2="40.60" y2="244.70" stroke="#333" stroke-width="0.8" />
<text x="33.80" y="247.78" font-size="8.6" text-anchor="end" fill="#222" stroke="#222" stroke-width="0.28" textLength="11.33" lengthAdjust="spacingAndGlyphs" >500</text>
<line x1="91.60" y1="406.80" x2="91.60" y2="403.80" stroke="#333" stroke-width="0.8" />
<line x1="146.60" y1="406.80" x2="146.60" y2="403.80" stroke="#333" stroke-width="0.8" />
<line x1="201.60" y1="406.80" x2="201.60" y2="403.80" stroke="#333" stroke-width="0.8" />
<text x="64.40" y="416.46" font-size="8" text-anchor="middle" fill="#222" stroke="#222" stroke-width="0.28" textLength="21.84" lengthAdjust="spacingAndGlyphs" >Top(H)</text>
<text x="119.10" y="416.46" font-size="8" text-anchor="middle" fill="#222" stroke="#222" stroke-width="0.28" textLength="31.55" lengthAdjust="spacingAndGlyphs" >Middle(H)</text>
<text x="174.00" y="416.46" font-size="8" text-anchor="middle" fill="#222" stroke="#222" stroke-width="0.28" textLength="33.17" lengthAdjust="spacingAndGlyphs" >Bottom(H)</text>
<text x="229.00" y="416.46" font-size="8" text-anchor="middle" fill="#222" stroke="#222" stroke-width="0.28" textLength="4.45" lengthAdjust="spacingAndGlyphs" >Z</text>
<line x1="256.50" y1="323.80" x2="253.50" y2="323.80" stroke="#333" stroke-width="0.8" />
<text x="259.70" y="326.23" font-size="6.8" text-anchor="start" fill="#222" stroke="#222" stroke-width="0.28" >5</text>
<line x1="256.50" y1="312.50" x2="253.50" y2="312.50" stroke="#333" stroke-width="0.8" />
<text x="259.70" y="314.93" font-size="6.8" text-anchor="start" fill="#222" stroke="#222" stroke-width="0.28" >10</text>
<line x1="256.50" y1="301.20" x2="253.50" y2="301.20" stroke="#333" stroke-width="0.8" />
<text x="259.70" y="303.63" font-size="6.8" text-anchor="start" fill="#222" stroke="#222" stroke-width="0.28" >15</text>
<line x1="256.50" y1="289.90" x2="253.50" y2="289.90" stroke="#333" stroke-width="0.8" />
<text x="259.70" y="292.33" font-size="6.8" text-anchor="start" fill="#222" stroke="#222" stroke-width="0.28" >20</text>
<line x1="256.50" y1="278.60" x2="253.50" y2="278.60" stroke="#333" stroke-width="0.8" />
<text x="259.70" y="281.03" font-size="6.8" text-anchor="start" fill="#222" stroke="#222" stroke-width="0.28" >25</text>
<line x1="256.50" y1="267.30" x2="253.50" y2="267.30" stroke="#333" stroke-width="0.8" />
<text x="259.70" y="269.73" font-size="6.8" text-anchor="start" fill="#222" stroke="#222" stroke-width="0.28" >30</text>
<line x1="256.50" y1="256.00" x2="253.50" y2="256.00" stroke="#333" stroke-width="0.8" />
<text x="259.70" y="258.43" font-size="6.8" text-anchor="start" fill="#222" stroke="#222" stroke-width="0.28" >35</text>
<line x1="256.50" y1="244.70" x2="253.50" y2="244.70" stroke="#333" stroke-width="0.8" />
<text x="259.70" y="247.13" font-size="6.8" text-anchor="start" fill="#222" stroke="#222" stroke-width="0.28" >40</text>
<line x1="256.50" y1="318.15" x2="254.70" y2="318.15" stroke="#333" stroke-width="0.8" />
<line x1="256.50" y1="306.85" x2="254.70" y2="306.85" stroke="#333" stroke-width="0.8" />
<line x1="256.50" y1="295.55" x2="254.70" y2="295.55" stroke="#333" stroke-width="0.8" />
<line x1="256.50" y1="284.25" x2="254.70" y2="284.25" stroke="#333" stroke-width="0.8" />
<line x1="256.50" y1="272.95" x2="254.70" y2="272.95" stroke="#333" stroke-width="0.8" />
<line x1="256.50" y1="261.65" x2="254.70" y2="261.65" stroke="#333" stroke-width="0.8" />
<line x1="256.50" y1="250.35" x2="254.70" y2="250.35" stroke="#333" stroke-width="0.8" />
<line x1="256.50" y1="406.80" x2="253.50" y2="406.80" stroke="#333" stroke-width="0.8" />
<text x="259.70" y="409.23" font-size="6.8" text-anchor="start" fill="#222" stroke="#222" stroke-width="0.28" >0.0</text>
<line x1="256.50" y1="390.85" x2="253.50" y2="390.85" stroke="#333" stroke-width="0.8" />
<text x="259.70" y="393.28" font-size="6.8" text-anchor="start" fill="#222" stroke="#222" stroke-width="0.28" >0.1</text>
<line x1="256.50" y1="374.90" x2="253.50" y2="374.90" stroke="#333" stroke-width="0.8" />
<text x="259.70" y="377.33" font-size="6.8" text-anchor="start" fill="#222" stroke="#222" stroke-width="0.28" >0.2</text>
<line x1="256.50" y1="358.95" x2="253.50" y2="358.95" stroke="#333" stroke-width="0.8" />
<text x="259.70" y="361.38" font-size="6.8" text-anchor="start" fill="#222" stroke="#222" stroke-width="0.28" >0.3</text>
<line x1="256.50" y1="343.00" x2="253.50" y2="343.00" stroke="#333" stroke-width="0.8" />
<text x="259.70" y="345.43" font-size="6.8" text-anchor="start" fill="#222" stroke="#222" stroke-width="0.28" >0.4</text>
<line x1="256.50" y1="398.82" x2="254.70" y2="398.82" stroke="#333" stroke-width="0.8" />
<line x1="256.50" y1="382.88" x2="254.70" y2="382.88" stroke="#333" stroke-width="0.8" />
<line x1="256.50" y1="366.93" x2="254.70" y2="366.93" stroke="#333" stroke-width="0.8" />
<line x1="256.50" y1="350.98" x2="254.70" y2="350.98" stroke="#333" stroke-width="0.8" />
<line x1="256.50" y1="335.02" x2="254.70" y2="335.02" stroke="#333" stroke-width="0.8" />
<path d="M253.20,325.20 L262.50,322.40 L263.00,325.50 L253.20,328.50 Z" fill="#fff"/>
<line x1="253.20" y1="325.20" x2="262.50" y2="322.40" stroke="#222" stroke-width="0.9" />
<line x1="253.20" y1="328.50" x2="263.00" y2="325.50" stroke="#222" stroke-width="0.9" />
<text x="0" y="0" font-size="8.4" text-anchor="middle" fill="#222" stroke="#222" stroke-width="0.28" textLength="109.90" lengthAdjust="spacingAndGlyphs" transform="translate(14.20,325.50) rotate(-90)">Ultimate tensile strength/MPa</text>
<text x="0" y="0" font-size="8.6" text-anchor="middle" fill="#222" stroke="#222" stroke-width="0.28" textLength="51.60" lengthAdjust="spacingAndGlyphs" transform="translate(281.50,326.00) rotate(-90)">Elongation/%</text>
<text x="151.00" y="427.89" font-size="9.2" text-anchor="middle" fill="#222" stroke="#222" stroke-width="0.28" textLength="62.00" lengthAdjust="spacingAndGlyphs" >Tensile samples</text>
<rect x="37.6" y="228.4" width="14.100000000000001" height="7.400000000000006" fill="url(#hACl)" stroke="#505050" stroke-width="0.9"/>
<rect x="37.6" y="236.9" width="14.100000000000001" height="7.299999999999983" fill="url(#hWCl)" stroke="#404040" stroke-width="0.9"/>
<text x="53.50" y="234.01" font-size="7.0" text-anchor="start" fill="#222" stroke="#222" stroke-width="0.15" textLength="53.90" lengthAdjust="spacingAndGlyphs" >UTS-AC-NA-90d</text>
<text x="53.50" y="242.81" font-size="7.0" text-anchor="start" fill="#222" stroke="#222" stroke-width="0.15" textLength="56.50" lengthAdjust="spacingAndGlyphs" >UTS-WC-NA-90d</text>
<circle cx="194.50" cy="230.80" r="2.0" fill="#e020e0"/>
<path d="M192.30,242.28 L196.70,242.28 L194.50,238.32 Z" fill="#1414c8"/>
<text x="205.40" y="233.31" font-size="7.0" text-anchor="start" fill="#222" stroke="#222" stroke-width="0.15" textLength="47.20" lengthAdjust="spacingAndGlyphs" >EL-AC-NA-90d</text>
<text x="205.40" y="242.81" font-size="7.0" text-anchor="start" fill="#222" stroke="#222" stroke-width="0.15" textLength="50.10" lengthAdjust="spacingAndGlyphs" >EL-WC-NA-90d</text>
<g clip-path="url(#cTR)" fill="none" stroke-width="1.15" stroke-linejoin="round">
<path d="M322.70,182.40 L329.26,152.95 L329.68,151.55 L330.26,149.63 L330.94,147.34 L331.67,144.87 L332.41,142.37 L333.09,140.02 L333.74,137.73 L334.41,135.33 L335.08,132.91 L335.73,130.55 L336.35,128.35 L336.92,126.38 L337.42,124.67 L337.83,123.17 L338.22,121.82 L338.62,120.57 L339.09,119.35 L339.66,118.12 L340.33,116.89 L341.06,115.73 L341.86,114.60 L342.71,113.49 L343.62,112.40 L344.58,111.30 L345.65,110.16 L346.83,109.00 L348.08,107.84 L349.31,106.73 L350.48,105.72 L351.53,104.83 L352.34,104.19 L352.95,103.77 L353.49,103.44 L354.10,103.06 L354.92,102.50 L356.07,101.60 L357.56,100.31 L359.29,98.73 L361.23,96.95 L363.33,95.10 L365.56,93.26 L367.88,91.54 L370.36,89.91 L373.03,88.27 L375.82,86.65 L378.69,85.08 L381.55,83.59 L384.35,82.21 L387.01,80.94 L389.57,79.76 L392.13,78.66 L394.79,77.63 L397.65,76.66 L400.81,75.74 L404.39,74.89 L408.34,74.11 L412.49,73.39 L416.67,72.71 L420.71,72.07 L424.44,71.43 L427.86,70.83 L431.10,70.26 L434.19,69.73 L437.19,69.21 L440.13,68.71 L443.04,68.20 L445.93,67.69 L448.77,67.17 L451.55,66.65 L454.26,66.17 L456.90,65.72 L459.45,65.33 L461.87,64.99 L464.15,64.69 L466.36,64.43 L468.55,64.21 L470.78,64.03 L473.12,63.89 L475.57,63.76 L478.07,63.61 L480.61,63.51 L483.19,63.49 L485.81,63.61 L488.44,63.89 L491.14,64.38 L493.93,65.02 L496.75,65.80 L499.54,66.67 L502.26,67.60 L504.85,68.56 L507.31,69.56 L509.69,70.62 L512.00,71.75 L514.23,72.92 L516.41,74.14 L518.53,75.38 L520.70,76.77 L522.94,78.34 L525.12,79.94 L527.12,81.45 L528.79,82.73 L530.01,83.64 L530.56,182.40" stroke="#222"/>
<path d="M322.70,182.40 L329.26,152.95 L329.68,151.53 L330.26,149.55 L330.94,147.21 L331.67,144.71 L332.41,142.25 L333.09,140.02 L333.74,137.96 L334.39,135.86 L335.04,133.81 L335.69,131.86 L336.32,130.08 L336.92,128.53 L337.49,127.28 L338.02,126.29 L338.53,125.46 L339.05,124.72 L339.60,123.97 L340.20,123.15 L340.84,122.27 L341.49,121.42 L342.16,120.57 L342.89,119.69 L343.69,118.76 L344.58,117.76 L345.62,116.63 L346.79,115.38 L348.04,114.08 L349.29,112.80 L350.48,111.61 L351.53,110.58 L352.34,109.81 L352.95,109.27 L353.49,108.83 L354.10,108.33 L354.92,107.64 L356.07,106.63 L357.56,105.21 L359.29,103.50 L361.23,101.60 L363.33,99.62 L365.56,97.67 L367.88,95.85 L370.36,94.13 L373.03,92.40 L375.82,90.69 L378.69,89.06 L381.55,87.53 L384.35,86.16 L387.01,84.96 L389.57,83.92 L392.13,82.98 L394.79,82.11 L397.65,81.27 L400.81,80.41 L404.39,79.52 L408.34,78.61 L412.49,77.73 L416.67,76.91 L420.71,76.18 L424.44,75.56 L427.85,75.11 L431.05,74.79 L434.12,74.56 L437.11,74.37 L440.06,74.18 L443.04,73.95 L446.05,73.65 L449.04,73.32 L452.00,72.99 L454.91,72.68 L457.77,72.44 L460.54,72.30 L463.24,72.24 L465.87,72.25 L468.44,72.32 L470.96,72.45 L473.43,72.64 L475.86,72.87 L478.27,73.15 L480.64,73.49 L482.97,73.87 L485.24,74.32 L487.43,74.82 L489.53,75.38 L491.60,76.06 L493.65,76.85 L495.62,77.70 L497.46,78.55 L499.09,79.35 L500.48,80.05 L501.57,80.67 L502.42,81.25 L503.07,81.78 L503.57,82.25 L503.97,82.63 L504.30,82.93 L504.30,182.40" stroke="#d03838"/>
<path d="M322.70,182.40 L334.19,114.89 L335.66,106.27 L336.54,102.68 L336.92,101.96 L337.41,101.35 L338.06,100.51 L338.84,99.51 L339.74,98.42 L340.75,97.30 L341.84,96.21 L342.98,95.15 L344.16,94.06 L345.45,92.94 L346.91,91.78 L348.60,90.60 L350.60,89.39 L352.99,88.12 L355.76,86.77 L358.76,85.40 L361.87,84.03 L364.95,82.72 L367.88,81.49 L370.67,80.35 L373.43,79.26 L376.17,78.22 L378.89,77.23 L381.61,76.29 L384.35,75.38 L387.07,74.54 L389.75,73.76 L392.44,73.02 L395.16,72.31 L397.94,71.60 L400.81,70.90 L403.81,70.15 L406.91,69.38 L410.07,68.62 L413.25,67.90 L416.41,67.27 L419.52,66.77 L422.50,66.40 L425.36,66.14 L428.21,65.97 L431.13,65.86 L434.22,65.77 L437.57,65.69 L441.41,65.60 L445.71,65.52 L450.19,65.46 L454.53,65.46 L458.44,65.53 L461.64,65.69 L463.91,65.90 L465.45,66.15 L466.56,66.47 L467.55,66.90 L468.73,67.46 L470.39,68.20 L472.74,69.26 L475.58,70.62 L478.59,72.13 L481.49,73.60 L483.96,74.87 L485.71,75.74 L485.71,182.40" stroke="#3c3cd0"/>
<path d="M322.70,182.40 L334.73,114.17 L335.28,112.37 L335.68,111.83 L336.21,111.08 L336.85,110.20 L337.57,109.23 L338.33,108.26 L339.11,107.35 L339.91,106.47 L340.76,105.58 L341.65,104.67 L342.59,103.77 L343.56,102.86 L344.58,101.96 L345.54,101.12 L346.44,100.35 L347.37,99.58 L348.46,98.74 L349.81,97.76 L351.53,96.57 L353.71,95.10 L356.28,93.38 L359.11,91.52 L362.07,89.63 L365.04,87.81 L367.88,86.16 L370.62,84.66 L373.36,83.21 L376.11,81.84 L378.85,80.54 L381.60,79.35 L384.35,78.26 L387.05,77.31 L389.71,76.50 L392.37,75.79 L395.08,75.13 L397.87,74.49 L400.81,73.80 L403.95,73.07 L407.27,72.32 L410.68,71.57 L414.10,70.87 L417.44,70.24 L420.61,69.71 L423.61,69.30 L426.50,68.99 L429.30,68.75 L432.06,68.55 L434.81,68.38 L437.57,68.20 L440.40,68.03 L443.28,67.88 L446.15,67.75 L448.94,67.64 L451.57,67.55 L453.98,67.48 L456.10,67.42 L457.97,67.36 L459.69,67.33 L461.35,67.32 L463.07,67.37 L464.92,67.48 L466.95,67.68 L469.07,67.94 L471.24,68.25 L473.41,68.59 L475.51,68.94 L477.50,69.28 L479.31,69.54 L480.97,69.71 L482.56,69.89 L484.19,70.17 L485.93,70.66 L487.89,71.43 L490.18,72.60 L492.76,74.11 L495.45,75.81 L498.10,77.58 L500.56,79.28 L502.66,80.77 L504.44,82.13 L506.03,83.48 L507.42,84.77 L508.60,85.92 L509.57,86.88 L510.32,87.59 L510.49,182.40" stroke="#e040e0"/>
<path d="M322.70,182.40 L334.73,115.96 L335.28,114.53 L335.68,114.03 L336.21,113.36 L336.85,112.55 L337.57,111.67 L338.33,110.75 L339.11,109.86 L339.91,108.96 L340.76,108.02 L341.65,107.05 L342.59,106.07 L343.56,105.08 L344.58,104.11 L345.54,103.21 L346.44,102.37 L347.37,101.53 L348.46,100.63 L349.81,99.60 L351.53,98.37 L353.71,96.87 L356.28,95.12 L359.11,93.25 L362.07,91.36 L365.04,89.56 L367.88,87.95 L370.64,86.52 L373.42,85.16 L376.20,83.89 L378.97,82.73 L381.69,81.68 L384.35,80.77 L387.10,80.01 L389.99,79.39 L392.84,78.89 L395.47,78.48 L397.67,78.16 L399.28,77.90 L399.28,182.40" stroke="#2aa02a"/>
<path d="M322.70,182.40 L334.73,113.45 L335.28,111.66 L335.68,111.12 L336.21,110.40 L336.85,109.55 L337.57,108.60 L338.33,107.61 L339.11,106.63 L339.91,105.63 L340.76,104.58 L341.65,103.49 L342.59,102.37 L343.56,101.26 L344.58,100.16 L345.54,99.14 L346.44,98.17 L347.37,97.20 L348.46,96.17 L349.81,95.03 L351.53,93.70 L353.71,92.11 L356.28,90.28 L359.11,88.34 L362.07,86.38 L365.04,84.54 L367.88,82.93 L370.62,81.54 L373.36,80.28 L376.11,79.13 L378.85,78.07 L381.60,77.07 L384.35,76.10 L387.07,75.20 L389.75,74.37 L392.44,73.61 L395.16,72.88 L397.94,72.17 L400.81,71.43 L404.00,70.65 L407.52,69.83 L411.10,69.01 L414.48,68.26 L417.37,67.61 L419.52,67.13 L420.78,66.83 L421.34,66.70 L421.43,66.68 L421.25,66.71 L421.03,66.76 L421.00,66.77 L421.00,182.40" stroke="#343494"/>
</g>
<rect x="347.6" y="122.2" width="121.79999999999995" height="55.8" fill="#fff" stroke="#999" stroke-width="0.8"/>
<line x1="352.40" y1="128.60" x2="367.00" y2="128.60" stroke="#222" stroke-width="1.3" />
<text x="369.50" y="131.21" font-size="7.3" text-anchor="start" fill="#222" stroke="#222" stroke-width="0.12" textLength="82.60" lengthAdjust="spacingAndGlyphs" >AC-Top(H2)-As fabricated</text>
<line x1="352.40" y1="137.22" x2="367.00" y2="137.22" stroke="#d03838" stroke-width="1.3" />
<text x="369.50" y="139.83" font-size="7.3" text-anchor="start" fill="#222" stroke="#222" stroke-width="0.12" textLength="92.60" lengthAdjust="spacingAndGlyphs" >AC-Bottom(H7)-As fabricated</text>
<line x1="352.40" y1="145.84" x2="367.00" y2="145.84" stroke="#3c3cd0" stroke-width="1.3" />
<text x="369.50" y="148.45" font-size="7.3" text-anchor="start" fill="#222" stroke="#222" stroke-width="0.12" textLength="84.60" lengthAdjust="spacingAndGlyphs" >WC-Top(H2)-As fabricated</text>
<line x1="352.40" y1="154.46" x2="367.00" y2="154.46" stroke="#e040e0" stroke-width="1.3" />
<text x="369.50" y="157.07" font-size="7.3" text-anchor="start" fill="#222" stroke="#222" stroke-width="0.12" textLength="94.60" lengthAdjust="spacingAndGlyphs" >WC-Bottom(H7)-As fabricated</text>
<line x1="352.40" y1="163.08" x2="367.00" y2="163.08" stroke="#2aa02a" stroke-width="1.3" />
<text x="369.50" y="165.69" font-size="7.3" text-anchor="start" fill="#222" stroke="#222" stroke-width="0.12" textLength="60.60" lengthAdjust="spacingAndGlyphs" >AC-Z-As fabricated</text>
<line x1="352.40" y1="171.70" x2="367.00" y2="171.70" stroke="#343494" stroke-width="1.3" />
<text x="369.50" y="174.31" font-size="7.3" text-anchor="start" fill="#222" stroke="#222" stroke-width="0.12" textLength="62.60" lengthAdjust="spacingAndGlyphs" >WC-Z-As fabricated</text>
<path d="M322.7,20.8 L542.0,20.8 L542.0,182.4 L322.7,182.4 Z" fill="none" stroke="#222" stroke-width="1.25"/>
<line x1="322.70" y1="182.40" x2="325.70" y2="182.40" stroke="#333" stroke-width="0.8" />
<text x="319.10" y="184.87" font-size="6.9" text-anchor="end" fill="#222" stroke="#222" stroke-width="0.28" >0</text>
<line x1="322.70" y1="173.42" x2="324.50" y2="173.42" stroke="#333" stroke-width="0.8" />
<line x1="322.70" y1="164.44" x2="325.70" y2="164.44" stroke="#333" stroke-width="0.8" />
<text x="319.10" y="166.91" font-size="6.9" text-anchor="end" fill="#222" stroke="#222" stroke-width="0.28" >50</text>
<line x1="322.70" y1="155.47" x2="324.50" y2="155.47" stroke="#333" stroke-width="0.8" />
<line x1="322.70" y1="146.49" x2="325.70" y2="146.49" stroke="#333" stroke-width="0.8" />
<text x="319.10" y="148.96" font-size="6.9" text-anchor="end" fill="#222" stroke="#222" stroke-width="0.28" >100</text>
<line x1="322.70" y1="137.51" x2="324.50" y2="137.51" stroke="#333" stroke-width="0.8" />
<line x1="322.70" y1="128.53" x2="325.70" y2="128.53" stroke="#333" stroke-width="0.8" />
<text x="319.10" y="131.00" font-size="6.9" text-anchor="end" fill="#222" stroke="#222" stroke-width="0.28" >150</text>
<line x1="322.70" y1="119.56" x2="324.50" y2="119.56" stroke="#333" stroke-width="0.8" />
<line x1="322.70" y1="110.58" x2="325.70" y2="110.58" stroke="#333" stroke-width="0.8" />
<text x="319.10" y="113.05" font-size="6.9" text-anchor="end" fill="#222" stroke="#222" stroke-width="0.28" >200</text>
<line x1="322.70" y1="101.60" x2="324.50" y2="101.60" stroke="#333" stroke-width="0.8" />
<line x1="322.70" y1="92.62" x2="325.70" y2="92.62" stroke="#333" stroke-width="0.8" />
<text x="319.10" y="95.09" font-size="6.9" text-anchor="end" fill="#222" stroke="#222" stroke-width="0.28" >250</text>
<line x1="322.70" y1="83.64" x2="324.50" y2="83.64" stroke="#333" stroke-width="0.8" />
<line x1="322.70" y1="74.67" x2="325.70" y2="74.67" stroke="#333" stroke-width="0.8" />
<text x="319.10" y="77.14" font-size="6.9" text-anchor="end" fill="#222" stroke="#222" stroke-width="0.28" >300</text>
<line x1="322.70" y1="65.69" x2="324.50" y2="65.69" stroke="#333" stroke-width="0.8" />
<line x1="322.70" y1="56.71" x2="325.70" y2="56.71" stroke="#333" stroke-width="0.8" />
<text x="319.10" y="59.18" font-size="6.9" text-anchor="end" fill="#222" stroke="#222" stroke-width="0.28" >350</text>
<line x1="322.70" y1="47.73" x2="324.50" y2="47.73" stroke="#333" stroke-width="0.8" />
<line x1="322.70" y1="38.76" x2="325.70" y2="38.76" stroke="#333" stroke-width="0.8" />
<text x="319.10" y="41.23" font-size="6.9" text-anchor="end" fill="#222" stroke="#222" stroke-width="0.28" >400</text>
<line x1="322.70" y1="29.78" x2="324.50" y2="29.78" stroke="#333" stroke-width="0.8" />
<line x1="322.70" y1="20.80" x2="325.70" y2="20.80" stroke="#333" stroke-width="0.8" />
<text x="319.10" y="23.27" font-size="6.9" text-anchor="end" fill="#222" stroke="#222" stroke-width="0.28" >450</text>
<line x1="322.70" y1="182.40" x2="322.70" y2="179.40" stroke="#333" stroke-width="0.8" />
<text x="322.70" y="191.87" font-size="6.9" text-anchor="middle" fill="#222" stroke="#222" stroke-width="0.28" >0</text>
<line x1="328.17" y1="182.40" x2="328.17" y2="180.60" stroke="#333" stroke-width="0.8" />
<line x1="333.64" y1="182.40" x2="333.64" y2="179.40" stroke="#333" stroke-width="0.8" />
<text x="333.64" y="191.87" font-size="6.9" text-anchor="middle" fill="#222" stroke="#222" stroke-width="0.28" >2</text>
<line x1="339.11" y1="182.40" x2="339.11" y2="180.60" stroke="#333" stroke-width="0.8" />
<line x1="344.58" y1="182.40" x2="344.58" y2="179.40" stroke="#333" stroke-width="0.8" />
<text x="344.58" y="191.87" font-size="6.9" text-anchor="middle" fill="#222" stroke="#222" stroke-width="0.28" >4</text>
<line x1="350.05" y1="182.40" x2="350.05" y2="180.60" stroke="#333" stroke-width="0.8" />
<line x1="355.52" y1="182.40" x2="355.52" y2="179.40" stroke="#333" stroke-width="0.8" />
<text x="355.52" y="191.87" font-size="6.9" text-anchor="middle" fill="#222" stroke="#222" stroke-width="0.28" >6</text>
<line x1="360.99" y1="182.40" x2="360.99" y2="180.60" stroke="#333" stroke-width="0.8" />
<line x1="366.46" y1="182.40" x2="366.46" y2="179.40" stroke="#333" stroke-width="0.8" />
<text x="366.46" y="191.87" font-size="6.9" text-anchor="middle" fill="#222" stroke="#222" stroke-width="0.28" >8</text>
<line x1="371.93" y1="182.40" x2="371.93" y2="180.60" stroke="#333" stroke-width="0.8" />
<line x1="377.40" y1="182.40" x2="377.40" y2="179.40" stroke="#333" stroke-width="0.8" />
<text x="377.40" y="191.87" font-size="6.9" text-anchor="middle" fill="#222" stroke="#222" stroke-width="0.28" >10</text>
<line x1="382.87" y1="182.40" x2="382.87" y2="180.60" stroke="#333" stroke-width="0.8" />
<line x1="388.34" y1="182.40" x2="388.34" y2="179.40" stroke="#333" stroke-width="0.8" />
<text x="388.34" y="191.87" font-size="6.9" text-anchor="middle" fill="#222" stroke="#222" stroke-width="0.28" >12</text>
<line x1="393.81" y1="182.40" x2="393.81" y2="180.60" stroke="#333" stroke-width="0.8" />
<line x1="399.28" y1="182.40" x2="399.28" y2="179.40" stroke="#333" stroke-width="0.8" />
<text x="399.28" y="191.87" font-size="6.9" text-anchor="middle" fill="#222" stroke="#222" stroke-width="0.28" >14</text>
<line x1="404.75" y1="182.40" x2="404.75" y2="180.60" stroke="#333" stroke-width="0.8" />
<line x1="410.22" y1="182.40" x2="410.22" y2="179.40" stroke="#333" stroke-width="0.8" />
<text x="410.22" y="191.87" font-size="6.9" text-anchor="middle" fill="#222" stroke="#222" stroke-width="0.28" >16</text>
<line x1="415.69" y1="182.40" x2="415.69" y2="180.60" stroke="#333" stroke-width="0.8" />
<line x1="421.16" y1="182.40" x2="421.16" y2="179.40" stroke="#333" stroke-width="0.8" />
<text x="421.16" y="191.87" font-size="6.9" text-anchor="middle" fill="#222" stroke="#222" stroke-width="0.28" >18</text>
<line x1="426.63" y1="182.40" x2="426.63" y2="180.60" stroke="#333" stroke-width="0.8" />
<line x1="432.10" y1="182.40" x2="432.10" y2="179.40" stroke="#333" stroke-width="0.8" />
<text x="432.10" y="191.87" font-size="6.9" text-anchor="middle" fill="#222" stroke="#222" stroke-width="0.28" >20</text>
<line x1="437.57" y1="182.40" x2="437.57" y2="180.60" stroke="#333" stroke-width="0.8" />
<line x1="443.04" y1="182.40" x2="443.04" y2="179.40" stroke="#333" stroke-width="0.8" />
<text x="443.04" y="191.87" font-size="6.9" text-anchor="middle" fill="#222" stroke="#222" stroke-width="0.28" >22</text>
<line x1="448.51" y1="182.40" x2="448.51" y2="180.60" stroke="#333" stroke-width="0.8" />
<line x1="453.98" y1="182.40" x2="453.98" y2="179.40" stroke="#333" stroke-width="0.8" />
<text x="453.98" y="191.87" font-size="6.9" text-anchor="middle" fill="#222" stroke="#222" stroke-width="0.28" >24</text>
<line x1="459.45" y1="182.40" x2="459.45" y2="180.60" stroke="#333" stroke-width="0.8" />
<line x1="464.92" y1="182.40" x2="464.92" y2="179.40" stroke="#333" stroke-width="0.8" />
<text x="464.92" y="191.87" font-size="6.9" text-anchor="middle" fill="#222" stroke="#222" stroke-width="0.28" >26</text>
<line x1="470.39" y1="182.40" x2="470.39" y2="180.60" stroke="#333" stroke-width="0.8" />
<line x1="475.86" y1="182.40" x2="475.86" y2="179.40" stroke="#333" stroke-width="0.8" />
<text x="475.86" y="191.87" font-size="6.9" text-anchor="middle" fill="#222" stroke="#222" stroke-width="0.28" >28</text>
<line x1="481.33" y1="182.40" x2="481.33" y2="180.60" stroke="#333" stroke-width="0.8" />
<line x1="486.80" y1="182.40" x2="486.80" y2="179.40" stroke="#333" stroke-width="0.8" />
<text x="486.80" y="191.87" font-size="6.9" text-anchor="middle" fill="#222" stroke="#222" stroke-width="0.28" >30</text>
<line x1="492.27" y1="182.40" x2="492.27" y2="180.60" stroke="#333" stroke-width="0.8" />
<line x1="497.74" y1="182.40" x2="497.74" y2="179.40" stroke="#333" stroke-width="0.8" />
<text x="497.74" y="191.87" font-size="6.9" text-anchor="middle" fill="#222" stroke="#222" stroke-width="0.28" >32</text>
<line x1="503.21" y1="182.40" x2="503.21" y2="180.60" stroke="#333" stroke-width="0.8" />
<line x1="508.68" y1="182.40" x2="508.68" y2="179.40" stroke="#333" stroke-width="0.8" />
<text x="508.68" y="191.87" font-size="6.9" text-anchor="middle" fill="#222" stroke="#222" stroke-width="0.28" >34</text>
<line x1="514.15" y1="182.40" x2="514.15" y2="180.60" stroke="#333" stroke-width="0.8" />
<line x1="519.62" y1="182.40" x2="519.62" y2="179.40" stroke="#333" stroke-width="0.8" />
<text x="519.62" y="191.87" font-size="6.9" text-anchor="middle" fill="#222" stroke="#222" stroke-width="0.28" >36</text>
<line x1="525.09" y1="182.40" x2="525.09" y2="180.60" stroke="#333" stroke-width="0.8" />
<line x1="530.56" y1="182.40" x2="530.56" y2="179.40" stroke="#333" stroke-width="0.8" />
<text x="530.56" y="191.87" font-size="6.9" text-anchor="middle" fill="#222" stroke="#222" stroke-width="0.28" >38</text>
<line x1="536.03" y1="182.40" x2="536.03" y2="180.60" stroke="#333" stroke-width="0.8" />
<line x1="541.50" y1="182.40" x2="541.50" y2="179.40" stroke="#333" stroke-width="0.8" />
<text x="541.50" y="191.87" font-size="6.9" text-anchor="middle" fill="#222" stroke="#222" stroke-width="0.28" >40</text>
<text x="0" y="0" font-size="8.8" text-anchor="middle" fill="#222" stroke="#222" stroke-width="0.28" textLength="94.60" lengthAdjust="spacingAndGlyphs" transform="translate(301.50,102.40) rotate(-90)">Engineering Stress /MPa</text>
<text x="432.00" y="203.41" font-size="8.4" text-anchor="middle" fill="#222" stroke="#222" stroke-width="0.28" textLength="82.00" lengthAdjust="spacingAndGlyphs" >Engineering Strain /%</text>
<g clip-path="url(#cBR)" fill="none" stroke-width="1.15" stroke-linejoin="round">
<path d="M320.90,408.00 L320.90,408.00 L321.32,407.50 L321.92,406.87 L322.61,406.09 L323.36,405.14 L324.09,403.98 L324.74,402.61 L325.28,400.99 L325.75,399.14 L326.21,397.10 L326.71,394.88 L327.29,392.51 L328.03,390.02 L328.87,387.32 L329.77,384.36 L330.77,381.26 L331.89,378.10 L333.15,375.00 L334.61,372.04 L336.32,369.29 L338.30,366.65 L340.43,364.07 L342.61,361.46 L344.72,358.75 L346.67,355.86 L348.45,352.77 L350.15,349.53 L351.78,346.18 L353.38,342.79 L354.96,339.41 L356.54,336.09 L358.11,332.83 L359.65,329.58 L361.17,326.34 L362.68,323.10 L364.19,319.88 L365.69,316.67 L367.22,313.37 L368.77,309.96 L370.31,306.56 L371.82,303.29 L373.27,300.27 L374.63,297.62 L375.85,295.39 L376.95,293.50 L377.98,291.86 L379.03,290.39 L380.15,288.98 L381.43,287.55 L382.82,286.14 L384.28,284.85 L385.82,283.62 L387.45,282.42 L389.20,281.23 L391.08,280.00 L393.06,278.70 L395.12,277.36 L397.30,276.02 L399.62,274.72 L402.10,273.52 L404.78,272.45 L407.75,271.48 L411.02,270.57 L414.45,269.75 L417.92,269.05 L421.32,268.50 L424.52,268.13 L427.52,267.95 L430.41,267.95 L433.22,268.09 L435.99,268.36 L438.75,268.74 L441.51,269.21 L444.29,269.77 L447.04,270.42 L449.77,271.19 L452.50,272.07 L455.23,273.09 L457.96,274.25 L460.74,275.58 L463.55,277.10 L466.36,278.74 L469.13,280.46 L471.83,282.22 L474.41,283.95 L476.92,285.70 L479.38,287.50 L481.78,289.32 L484.06,291.16 L486.18,292.97 L488.12,294.74 L489.90,296.58 L491.57,298.52 L493.08,300.45 L494.41,302.22 L495.51,303.72 L496.34,304.81 L496.34,408.00" stroke="#222"/>
<path d="M320.90,408.00 L338.44,316.67 L338.99,315.59 L340.14,314.54 L341.69,313.09 L343.55,311.37 L345.61,309.51 L347.78,307.64 L349.96,305.89 L352.23,304.20 L354.69,302.48 L357.26,300.74 L359.85,299.03 L362.38,297.38 L364.76,295.82 L366.98,294.36 L369.09,292.97 L371.13,291.64 L373.17,290.36 L375.23,289.12 L377.37,287.91 L379.59,286.74 L381.86,285.62 L384.15,284.54 L386.47,283.49 L388.78,282.46 L391.08,281.44 L393.29,280.44 L395.42,279.48 L397.55,278.54 L399.77,277.60 L402.15,276.65 L404.78,275.68 L407.75,274.65 L411.02,273.55 L414.45,272.45 L417.92,271.38 L421.32,270.41 L424.52,269.57 L427.45,268.90 L430.20,268.35 L432.88,267.89 L435.59,267.48 L438.43,267.10 L441.51,266.69 L444.95,266.28 L448.66,265.88 L452.51,265.50 L456.36,265.15 L460.05,264.83 L463.45,264.54 L466.57,264.28 L469.54,264.04 L472.35,263.84 L475.02,263.67 L477.53,263.54 L479.89,263.46 L482.04,263.41 L483.95,263.39 L485.72,263.41 L487.41,263.49 L489.09,263.62 L490.86,263.82 L492.71,264.01 L494.59,264.16 L496.48,264.38 L498.33,264.75 L500.12,265.37 L501.82,266.34 L503.51,267.87 L505.23,269.93 L506.89,272.25 L508.40,274.52 L509.67,276.49 L510.59,277.84 L511.14,408.00" stroke="#d03838"/>
<path d="M320.90,408.00 L335.15,331.77 L335.70,330.34 L336.48,329.38 L337.55,328.05 L338.82,326.47 L340.19,324.80 L341.56,323.16 L342.83,321.71 L343.93,320.47 L344.92,319.34 L345.91,318.25 L347.01,317.13 L348.33,315.91 L349.96,314.52 L352.02,312.88 L354.47,311.03 L357.12,309.08 L359.83,307.14 L362.43,305.32 L364.76,303.73 L366.76,302.42 L368.54,301.31 L370.21,300.31 L371.89,299.36 L373.69,298.37 L375.73,297.26 L378.04,295.99 L380.54,294.63 L383.16,293.23 L385.84,291.85 L388.50,290.54 L391.08,289.35 L393.53,288.29 L395.91,287.32 L398.27,286.43 L400.68,285.58 L403.20,284.76 L405.88,283.95 L408.78,283.15 L411.87,282.37 L415.06,281.62 L418.29,280.90 L421.46,280.24 L424.52,279.64 L427.39,279.10 L430.12,278.61 L432.81,278.18 L435.55,277.79 L438.42,277.44 L441.51,277.12 L444.95,276.83 L448.66,276.55 L452.51,276.31 L456.36,276.14 L460.05,276.04 L463.45,276.04 L466.50,276.11 L469.33,276.20 L472.01,276.38 L474.61,276.68 L477.21,277.15 L479.89,277.84 L482.66,278.73 L485.46,279.80 L488.25,281.03 L491.02,282.44 L493.73,284.01 L496.34,285.75 L499.01,287.90 L501.78,290.49 L504.50,293.26 L506.98,295.91 L509.07,298.18 L510.59,299.77 L511.69,408.00" stroke="#3c3cd0"/>
<path d="M320.90,408.00 L336.25,327.10 L336.80,325.66 L337.44,324.81 L338.32,323.64 L339.37,322.25 L340.52,320.73 L341.69,319.20 L342.83,317.75 L343.87,316.38 L344.84,315.01 L345.85,313.62 L346.97,312.19 L348.31,310.69 L349.96,309.12 L352.02,307.40 L354.47,305.53 L357.12,303.59 L359.83,301.69 L362.43,299.91 L364.76,298.34 L366.76,297.03 L368.54,295.94 L370.21,294.96 L371.89,294.02 L373.69,293.02 L375.73,291.86 L378.04,290.53 L380.54,289.07 L383.16,287.55 L385.84,286.03 L388.50,284.57 L391.08,283.23 L393.53,282.02 L395.91,280.89 L398.27,279.82 L400.68,278.79 L403.20,277.77 L405.88,276.76 L408.78,275.74 L411.87,274.71 L415.06,273.71 L418.29,272.74 L421.46,271.83 L424.52,271.01 L427.39,270.27 L430.12,269.61 L432.81,269.01 L435.55,268.45 L438.42,267.93 L441.51,267.41 L444.88,266.92 L448.46,266.44 L452.17,266.00 L455.95,265.59 L459.73,265.22 L463.45,264.90 L467.16,264.61 L470.96,264.36 L474.75,264.16 L478.47,263.99 L482.04,263.88 L485.38,263.82 L488.47,263.80 L491.37,263.80 L494.11,263.86 L496.75,263.99 L499.30,264.21 L501.82,264.54 L504.34,264.94 L506.84,265.40 L509.26,265.95 L511.55,266.63 L513.66,267.46 L515.53,268.49 L517.18,269.89 L518.66,271.66 L519.95,273.59 L521.05,275.47 L521.96,277.08 L522.66,278.20 L522.66,408.00" stroke="#e040e0"/>
<path d="M320.90,408.00 L336.25,328.90 L336.80,327.46 L337.44,326.60 L338.32,325.41 L339.37,324.00 L340.52,322.48 L341.69,320.96 L342.83,319.55 L343.87,318.26 L344.84,317.02 L345.85,315.77 L346.97,314.49 L348.31,313.12 L349.96,311.64 L352.02,309.96 L354.47,308.11 L357.12,306.18 L359.83,304.26 L362.43,302.45 L364.76,300.85 L366.76,299.51 L368.54,298.35 L370.21,297.30 L371.89,296.28 L373.69,295.22 L375.73,294.02 L378.04,292.66 L380.54,291.20 L383.16,289.68 L385.84,288.17 L388.50,286.73 L391.08,285.39 L393.53,284.18 L395.91,283.05 L398.27,281.98 L400.68,280.94 L403.20,279.93 L405.88,278.92 L408.78,277.90 L411.87,276.88 L415.06,275.89 L418.29,274.92 L421.46,274.01 L424.52,273.17 L427.39,272.39 L430.12,271.68 L432.81,271.01 L435.55,270.38 L438.42,269.79 L441.51,269.21 L444.88,268.66 L448.46,268.13 L452.17,267.64 L455.95,267.17 L459.73,266.74 L463.45,266.34 L467.16,265.95 L470.96,265.59 L474.75,265.26 L478.47,264.96 L482.04,264.72 L485.38,264.54 L488.43,264.40 L491.26,264.28 L493.94,264.22 L496.54,264.23 L499.14,264.33 L501.82,264.54 L504.67,264.80 L507.63,265.10 L510.59,265.48 L513.44,266.02 L516.04,266.76 L518.27,267.77 L520.15,269.26 L521.76,271.21 L523.14,273.37 L524.28,275.48 L525.21,277.30 L525.95,278.56 L525.95,408.00" stroke="#2aa02a"/>
<path d="M320.90,408.00 L335.15,331.77 L335.70,330.34 L336.48,329.21 L337.55,327.63 L338.82,325.77 L340.19,323.81 L341.56,321.92 L342.83,320.27 L343.93,318.90 L344.92,317.68 L345.91,316.54 L347.01,315.38 L348.33,314.13 L349.96,312.72 L352.02,311.06 L354.47,309.22 L357.12,307.28 L359.83,305.35 L362.43,303.54 L364.76,301.93 L366.76,300.58 L368.54,299.43 L370.21,298.38 L371.89,297.36 L373.69,296.30 L375.73,295.10 L378.04,293.73 L380.54,292.24 L383.16,290.69 L385.84,289.17 L388.50,287.74 L391.08,286.47 L393.58,285.36 L396.08,284.35 L398.56,283.44 L401.03,282.60 L403.47,281.81 L405.88,281.08 L408.42,280.38 L411.12,279.72 L413.79,279.12 L416.27,278.60 L418.35,278.17 L419.86,277.84 L419.86,408.00" stroke="#343494"/>
<path d="M320.90,408.00 L347.49,318.47 L347.76,317.39 L348.36,316.94 L349.15,316.35 L350.09,315.64 L351.20,314.80 L352.43,313.82 L353.79,312.72 L355.34,311.42 L357.08,309.91 L358.97,308.27 L360.92,306.58 L362.88,304.92 L364.76,303.37 L366.54,301.95 L368.25,300.60 L369.97,299.28 L371.75,297.95 L373.64,296.57 L375.73,295.10 L378.00,293.50 L380.44,291.80 L382.99,290.04 L385.63,288.29 L388.34,286.61 L391.08,285.03 L393.82,283.58 L396.60,282.20 L399.44,280.87 L402.37,279.60 L405.42,278.35 L408.62,277.12 L412.07,275.89 L415.77,274.67 L419.59,273.48 L423.40,272.34 L427.10,271.27 L430.55,270.29 L433.93,269.38 L437.37,268.51 L440.69,267.71 L443.71,267.00 L446.24,266.42 L448.09,265.98 L448.09,408.00" stroke="#9a50e0"/>
</g>
<rect x="361.5" y="333.3" width="104.80000000000001" height="69.19999999999999" fill="#fff" stroke="#999" stroke-width="0.8"/>
<line x1="365.90" y1="340.70" x2="383.80" y2="340.70" stroke="#222" stroke-width="1.3" />
<text x="385.50" y="343.31" font-size="7.3" text-anchor="start" fill="#222" stroke="#222" stroke-width="0.12" >BM</text>
<line x1="365.90" y1="350.35" x2="383.80" y2="350.35" stroke="#d03838" stroke-width="1.3" />
<text x="385.50" y="352.96" font-size="7.3" text-anchor="start" fill="#222" stroke="#222" stroke-width="0.12" >AC-Top(H2)-NA-90d</text>
<line x1="365.90" y1="360.00" x2="383.80" y2="360.00" stroke="#3c3cd0" stroke-width="1.3" />
<text x="385.50" y="362.61" font-size="7.3" text-anchor="start" fill="#222" stroke="#222" stroke-width="0.12" >AC-Bottom(H7)-NA-90d</text>
<line x1="365.90" y1="369.65" x2="383.80" y2="369.65" stroke="#e040e0" stroke-width="1.3" />
<text x="385.50" y="372.26" font-size="7.3" text-anchor="start" fill="#222" stroke="#222" stroke-width="0.12" >WC-Top(H2)-NA-90d</text>
<line x1="365.90" y1="379.30" x2="383.80" y2="379.30" stroke="#2aa02a" stroke-width="1.3" />
<text x="385.50" y="381.91" font-size="7.3" text-anchor="start" fill="#222" stroke="#222" stroke-width="0.12" textLength="78.00" lengthAdjust="spacingAndGlyphs" >WC-Bottom(H7)-NA-90d</text>
<line x1="365.90" y1="388.95" x2="383.80" y2="388.95" stroke="#343494" stroke-width="1.3" />
<text x="385.50" y="391.56" font-size="7.3" text-anchor="start" fill="#222" stroke="#222" stroke-width="0.12" >AC-Z-NA-90d</text>
<line x1="365.90" y1="398.60" x2="383.80" y2="398.60" stroke="#9a50e0" stroke-width="1.3" />
<text x="385.50" y="401.21" font-size="7.3" text-anchor="start" fill="#222" stroke="#222" stroke-width="0.12" >WC-Z-NA-90d</text>
<path d="M320.9,246.2 L540.2,246.2 L540.2,408.0 L320.9,408.0 Z" fill="none" stroke="#222" stroke-width="1.25"/>
<line x1="320.90" y1="408.00" x2="323.90" y2="408.00" stroke="#333" stroke-width="0.8" />
<text x="317.30" y="410.47" font-size="6.9" text-anchor="end" fill="#222" stroke="#222" stroke-width="0.28" >0</text>
<line x1="320.90" y1="399.01" x2="322.70" y2="399.01" stroke="#333" stroke-width="0.8" />
<line x1="320.90" y1="390.02" x2="323.90" y2="390.02" stroke="#333" stroke-width="0.8" />
<text x="317.30" y="392.49" font-size="6.9" text-anchor="end" fill="#222" stroke="#222" stroke-width="0.28" >50</text>
<line x1="320.90" y1="381.03" x2="322.70" y2="381.03" stroke="#333" stroke-width="0.8" />
<line x1="320.90" y1="372.04" x2="323.90" y2="372.04" stroke="#333" stroke-width="0.8" />
<text x="317.30" y="374.51" font-size="6.9" text-anchor="end" fill="#222" stroke="#222" stroke-width="0.28" >100</text>
<line x1="320.90" y1="363.06" x2="322.70" y2="363.06" stroke="#333" stroke-width="0.8" />
<line x1="320.90" y1="354.07" x2="323.90" y2="354.07" stroke="#333" stroke-width="0.8" />
<text x="317.30" y="356.54" font-size="6.9" text-anchor="end" fill="#222" stroke="#222" stroke-width="0.28" >150</text>
<line x1="320.90" y1="345.08" x2="322.70" y2="345.08" stroke="#333" stroke-width="0.8" />
<line x1="320.90" y1="336.09" x2="323.90" y2="336.09" stroke="#333" stroke-width="0.8" />
<text x="317.30" y="338.56" font-size="6.9" text-anchor="end" fill="#222" stroke="#222" stroke-width="0.28" >200</text>
<line x1="320.90" y1="327.10" x2="322.70" y2="327.10" stroke="#333" stroke-width="0.8" />
<line x1="320.90" y1="318.11" x2="323.90" y2="318.11" stroke="#333" stroke-width="0.8" />
<text x="317.30" y="320.58" font-size="6.9" text-anchor="end" fill="#222" stroke="#222" stroke-width="0.28" >250</text>
<line x1="320.90" y1="309.12" x2="322.70" y2="309.12" stroke="#333" stroke-width="0.8" />
<line x1="320.90" y1="300.13" x2="323.90" y2="300.13" stroke="#333" stroke-width="0.8" />
<text x="317.30" y="302.60" font-size="6.9" text-anchor="end" fill="#222" stroke="#222" stroke-width="0.28" >300</text>
<line x1="320.90" y1="291.14" x2="322.70" y2="291.14" stroke="#333" stroke-width="0.8" />
<line x1="320.90" y1="282.16" x2="323.90" y2="282.16" stroke="#333" stroke-width="0.8" />
<text x="317.30" y="284.63" font-size="6.9" text-anchor="end" fill="#222" stroke="#222" stroke-width="0.28" >350</text>
<line x1="320.90" y1="273.17" x2="322.70" y2="273.17" stroke="#333" stroke-width="0.8" />
<line x1="320.90" y1="264.18" x2="323.90" y2="264.18" stroke="#333" stroke-width="0.8" />
<text x="317.30" y="266.65" font-size="6.9" text-anchor="end" fill="#222" stroke="#222" stroke-width="0.28" >400</text>
<line x1="320.90" y1="255.19" x2="322.70" y2="255.19" stroke="#333" stroke-width="0.8" />
<line x1="320.90" y1="246.20" x2="323.90" y2="246.20" stroke="#333" stroke-width="0.8" />
<text x="317.30" y="248.67" font-size="6.9" text-anchor="end" fill="#222" stroke="#222" stroke-width="0.28" >450</text>
<line x1="320.90" y1="408.00" x2="320.90" y2="405.00" stroke="#333" stroke-width="0.8" />
<text x="320.90" y="416.97" font-size="6.9" text-anchor="middle" fill="#222" stroke="#222" stroke-width="0.28" >0</text>
<line x1="326.38" y1="408.00" x2="326.38" y2="406.20" stroke="#333" stroke-width="0.8" />
<line x1="331.87" y1="408.00" x2="331.87" y2="405.00" stroke="#333" stroke-width="0.8" />
<text x="331.87" y="416.97" font-size="6.9" text-anchor="middle" fill="#222" stroke="#222" stroke-width="0.28" >2</text>
<line x1="337.35" y1="408.00" x2="337.35" y2="406.20" stroke="#333" stroke-width="0.8" />
<line x1="342.83" y1="408.00" x2="342.83" y2="405.00" stroke="#333" stroke-width="0.8" />
<text x="342.83" y="416.97" font-size="6.9" text-anchor="middle" fill="#222" stroke="#222" stroke-width="0.28" >4</text>
<line x1="348.31" y1="408.00" x2="348.31" y2="406.20" stroke="#333" stroke-width="0.8" />
<line x1="353.79" y1="408.00" x2="353.79" y2="405.00" stroke="#333" stroke-width="0.8" />
<text x="353.79" y="416.97" font-size="6.9" text-anchor="middle" fill="#222" stroke="#222" stroke-width="0.28" >6</text>
<line x1="359.28" y1="408.00" x2="359.28" y2="406.20" stroke="#333" stroke-width="0.8" />
<line x1="364.76" y1="408.00" x2="364.76" y2="405.00" stroke="#333" stroke-width="0.8" />
<text x="364.76" y="416.97" font-size="6.9" text-anchor="middle" fill="#222" stroke="#222" stroke-width="0.28" >8</text>
<line x1="370.24" y1="408.00" x2="370.24" y2="406.20" stroke="#333" stroke-width="0.8" />
<line x1="375.73" y1="408.00" x2="375.73" y2="405.00" stroke="#333" stroke-width="0.8" />
<text x="375.73" y="416.97" font-size="6.9" text-anchor="middle" fill="#222" stroke="#222" stroke-width="0.28" >10</text>
<line x1="381.21" y1="408.00" x2="381.21" y2="406.20" stroke="#333" stroke-width="0.8" />
<line x1="386.69" y1="408.00" x2="386.69" y2="405.00" stroke="#333" stroke-width="0.8" />
<text x="386.69" y="416.97" font-size="6.9" text-anchor="middle" fill="#222" stroke="#222" stroke-width="0.28" >12</text>
<line x1="392.17" y1="408.00" x2="392.17" y2="406.20" stroke="#333" stroke-width="0.8" />
<line x1="397.65" y1="408.00" x2="397.65" y2="405.00" stroke="#333" stroke-width="0.8" />
<text x="397.65" y="416.97" font-size="6.9" text-anchor="middle" fill="#222" stroke="#222" stroke-width="0.28" >14</text>
<line x1="403.14" y1="408.00" x2="403.14" y2="406.20" stroke="#333" stroke-width="0.8" />
<line x1="408.62" y1="408.00" x2="408.62" y2="405.00" stroke="#333" stroke-width="0.8" />
<text x="408.62" y="416.97" font-size="6.9" text-anchor="middle" fill="#222" stroke="#222" stroke-width="0.28" >16</text>
<line x1="414.10" y1="408.00" x2="414.10" y2="406.20" stroke="#333" stroke-width="0.8" />
<line x1="419.59" y1="408.00" x2="419.59" y2="405.00" stroke="#333" stroke-width="0.8" />
<text x="419.59" y="416.97" font-size="6.9" text-anchor="middle" fill="#222" stroke="#222" stroke-width="0.28" >18</text>
<line x1="425.07" y1="408.00" x2="425.07" y2="406.20" stroke="#333" stroke-width="0.8" />
<line x1="430.55" y1="408.00" x2="430.55" y2="405.00" stroke="#333" stroke-width="0.8" />
<text x="430.55" y="416.97" font-size="6.9" text-anchor="middle" fill="#222" stroke="#222" stroke-width="0.28" >20</text>
<line x1="436.03" y1="408.00" x2="436.03" y2="406.20" stroke="#333" stroke-width="0.8" />
<line x1="441.51" y1="408.00" x2="441.51" y2="405.00" stroke="#333" stroke-width="0.8" />
<text x="441.51" y="416.97" font-size="6.9" text-anchor="middle" fill="#222" stroke="#222" stroke-width="0.28" >22</text>
<line x1="447.00" y1="408.00" x2="447.00" y2="406.20" stroke="#333" stroke-width="0.8" />
<line x1="452.48" y1="408.00" x2="452.48" y2="405.00" stroke="#333" stroke-width="0.8" />
<text x="452.48" y="416.97" font-size="6.9" text-anchor="middle" fill="#222" stroke="#222" stroke-width="0.28" >24</text>
<line x1="457.96" y1="408.00" x2="457.96" y2="406.20" stroke="#333" stroke-width="0.8" />
<line x1="463.45" y1="408.00" x2="463.45" y2="405.00" stroke="#333" stroke-width="0.8" />
<text x="463.45" y="416.97" font-size="6.9" text-anchor="middle" fill="#222" stroke="#222" stroke-width="0.28" >26</text>
<line x1="468.93" y1="408.00" x2="468.93" y2="406.20" stroke="#333" stroke-width="0.8" />
<line x1="474.41" y1="408.00" x2="474.41" y2="405.00" stroke="#333" stroke-width="0.8" />
<text x="474.41" y="416.97" font-size="6.9" text-anchor="middle" fill="#222" stroke="#222" stroke-width="0.28" >28</text>
<line x1="479.89" y1="408.00" x2="479.89" y2="406.20" stroke="#333" stroke-width="0.8" />
<line x1="485.38" y1="408.00" x2="485.38" y2="405.00" stroke="#333" stroke-width="0.8" />
<text x="485.38" y="416.97" font-size="6.9" text-anchor="middle" fill="#222" stroke="#222" stroke-width="0.28" >30</text>
<line x1="490.86" y1="408.00" x2="490.86" y2="406.20" stroke="#333" stroke-width="0.8" />
<line x1="496.34" y1="408.00" x2="496.34" y2="405.00" stroke="#333" stroke-width="0.8" />
<text x="496.34" y="416.97" font-size="6.9" text-anchor="middle" fill="#222" stroke="#222" stroke-width="0.28" >32</text>
<line x1="501.82" y1="408.00" x2="501.82" y2="406.20" stroke="#333" stroke-width="0.8" />
<line x1="507.31" y1="408.00" x2="507.31" y2="405.00" stroke="#333" stroke-width="0.8" />
<text x="507.31" y="416.97" font-size="6.9" text-anchor="middle" fill="#222" stroke="#222" stroke-width="0.28" >34</text>
<line x1="512.79" y1="408.00" x2="512.79" y2="406.20" stroke="#333" stroke-width="0.8" />
<line x1="518.27" y1="408.00" x2="518.27" y2="405.00" stroke="#333" stroke-width="0.8" />
<text x="518.27" y="416.97" font-size="6.9" text-anchor="middle" fill="#222" stroke="#222" stroke-width="0.28" >36</text>
<line x1="523.75" y1="408.00" x2="523.75" y2="406.20" stroke="#333" stroke-width="0.8" />
<line x1="529.24" y1="408.00" x2="529.24" y2="405.00" stroke="#333" stroke-width="0.8" />
<text x="529.24" y="416.97" font-size="6.9" text-anchor="middle" fill="#222" stroke="#222" stroke-width="0.28" >38</text>
<line x1="534.72" y1="408.00" x2="534.72" y2="406.20" stroke="#333" stroke-width="0.8" />
<line x1="540.20" y1="408.00" x2="540.20" y2="405.00" stroke="#333" stroke-width="0.8" />
<text x="540.20" y="416.97" font-size="6.9" text-anchor="middle" fill="#222" stroke="#222" stroke-width="0.28" >40</text>
<text x="0" y="0" font-size="8.8" text-anchor="middle" fill="#222" stroke="#222" stroke-width="0.28" textLength="94.50" lengthAdjust="spacingAndGlyphs" transform="translate(300.00,332.20) rotate(-90)">Engineering Stress /MPa</text>
<text x="430.50" y="430.01" font-size="8.4" text-anchor="middle" fill="#222" stroke="#222" stroke-width="0.28" textLength="83.00" lengthAdjust="spacingAndGlyphs" >Engineering Strain /%</text>
</g>
</svg></div></body></html>
